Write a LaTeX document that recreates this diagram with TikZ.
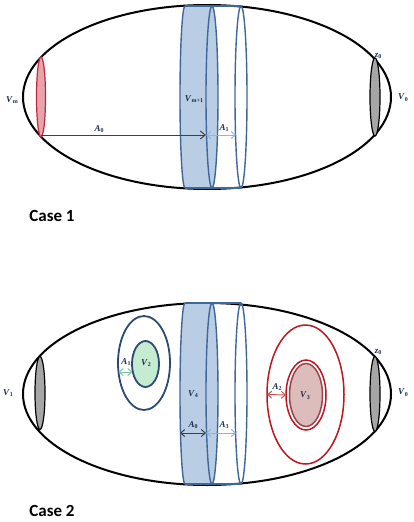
\documentclass[tikz,border=0pt]{standalone}
\usepackage{fontspec}
\setmainfont{Liberation Serif}
\newfontfamily\casefont{Carlito}
\usetikzlibrary{shapes.geometric,arrows.meta}
\definecolor{navy}{HTML}{1F2D50}
\definecolor{slabfill}{HTML}{B9CDE4}
\definecolor{slabline}{HTML}{41679A}
\definecolor{lensred}{HTML}{E9A3AB}
\definecolor{lensredline}{HTML}{C0283C}
\definecolor{lensgray}{HTML}{A6A6A6}
\definecolor{darkblue}{HTML}{2B4A78}
\definecolor{mint}{HTML}{C5EBD1}
\definecolor{ringred}{HTML}{C0141E}
\definecolor{pinkfill}{HTML}{DDBCBC}
\definecolor{pinkline}{HTML}{A0404A}
\definecolor{arrgray}{HTML}{404040}
\definecolor{arrblue}{HTML}{8EB4E3}
\definecolor{arrgreen}{HTML}{7FC79A}
\definecolor{arrred}{HTML}{D05050}
\newcommand\lab[2]{\textbf{\textit{#1}}\raisebox{-0.45ex}{\fontsize{6}{6}\selectfont\textbf{#2}}}
\begin{document}
\begin{tikzpicture}[x=1pt,y=-1pt,
  ell/.style={ellipse, inner sep=0pt, outer sep=0pt},
  big/.style={ell, draw=black, line width=2pt, minimum width=368pt},
  slabell/.style={ell, draw=slabline, line width=1.4pt, minimum width=12pt},
  slabedge/.style={draw=slabline, line width=1.4pt},
  redlens/.style={ell, draw=lensredline, fill=lensred, line width=1.2pt, minimum width=9pt},
  graylens/.style={ell, draw=black, fill=lensgray, line width=1.2pt, minimum width=10pt},
  lbl/.style={text=navy, font=\fontsize{9}{10}\selectfont, inner sep=0pt},
  casetxt/.style={font=\casefont\bfseries\fontsize{17}{18}\selectfont, inner sep=0pt},
  dim/.style={line width=1pt},
  barbs/.style={dim, {Straight Barb[length=4pt,width=7pt]}-{Straight Barb[length=4pt,width=7pt]}},
  barb/.style={dim, -{Straight Barb[length=5pt,width=8pt]}}
]
\useasboundingbox (0,0) rectangle (413,522);

% ================= Case 1 =================
\node[big, minimum height=184pt] (E1) at (207,97) {};
% slab
\fill[slabfill] (185,6) arc[start angle=90,end angle=270,x radius=5pt,y radius=91pt]
  -- (212,188) arc[start angle=-90,end angle=90,x radius=6pt,y radius=91pt] -- cycle;
\node[slabell, minimum height=182pt] (M1) at (212,97) {};
\node[slabell, minimum height=182pt] (R1) at (241,97) {};
\coordinate (S1t) at (185,6);
\coordinate (S1b) at (185,188);
\draw[slabedge] (S1t) arc[start angle=90,end angle=270,x radius=5pt,y radius=91pt];
\draw[slabedge] (S1t) -- (R1.north);
\draw[slabedge] (S1b) -- (R1.south);
% lenses
\node[redlens, minimum height=80pt] (L1) at (41,97) {};
\node[graylens, minimum height=78pt] (G1) at (375,97) {};
% arrows
\coordinate (a0s) at (41,135);
\coordinate (a0e) at (206,135);
\coordinate (a1e) at (236,135);
\draw[barb, arrgray] (a0s) -- (a0e);
\draw[barbs, arrblue] (a0e) -- (a1e);
% labels
\node[lbl] (vm) at (12,100) {\lab{V}{m}};
\node[lbl] (vm1) at (194,99) {\lab{V}{m+1}};
\node[lbl] (A0a) at (99,129) {\lab{A}{0}};
\node[lbl] (A1a) at (224,128) {\lab{A}{1}};
\node[lbl] (z0a) at (378,56) {\lab{z}{0}};
\node[lbl] (v0a) at (403,98) {\lab{V}{0}};
\node[casetxt] (c1) at (52,216) {Case 1};

% ================= Case 2 =================
\node[big, minimum height=182pt] (E2) at (207,394) {};
\fill[slabfill] (185,303) arc[start angle=90,end angle=270,x radius=5pt,y radius=90.5pt]
  -- (212,484) arc[start angle=-90,end angle=90,x radius=6pt,y radius=90.5pt] -- cycle;
\node[slabell, minimum height=181pt] (M2) at (212,393.5) {};
\node[slabell, minimum height=181pt] (R2) at (241,393.5) {};
\coordinate (S2t) at (185,303);
\coordinate (S2b) at (185,484);
\draw[slabedge] (S2t) arc[start angle=90,end angle=270,x radius=5pt,y radius=90.5pt];
\draw[slabedge] (S2t) -- (R2.north);
\draw[slabedge] (S2b) -- (R2.south);
% lenses
\node[graylens, minimum height=73pt] (G2l) at (40,393) {};
\node[graylens, minimum height=75pt] (G2r) at (375,394) {};
% blue nested
\node[ell, draw=darkblue, line width=1.8pt, minimum width=52pt, minimum height=94pt] (B2o) at (144,363) {};
\node[ell, draw=darkblue, fill=mint, line width=1.8pt, minimum width=27pt, minimum height=46pt] (B2i) at (145.5,364) {};
% red nested
\node[ell, draw=ringred, line width=1.5pt, minimum width=77pt, minimum height=139pt] (R2o) at (305.5,394.5) {};
\node[ell, draw=ringred, line width=1.5pt, minimum width=40pt, minimum height=70pt] (R2m) at (306,395) {};
\node[ell, draw=pinkline, fill=pinkfill, line width=1.5pt, minimum width=33pt, minimum height=63pt] (R2i) at (306,395) {};
% arrows
\coordinate (b0s) at (180,433);
\coordinate (b0e) at (206,433);
\coordinate (b3e) at (236,433);
\draw[barbs, arrgray] (b0s) -- (b0e);
\draw[barbs, arrblue] (b0e) -- (b3e);
\coordinate (g1s) at (118.5,372);
\coordinate (g1e) at (132.5,372);
\draw[barbs, arrgreen] (g1s) -- (g1e);
\draw[barbs, arrred] (R2o.west) -- (R2m.west);
% labels
\node[lbl] (v1b) at (8,393) {\lab{V}{1}};
\node[lbl] (v2b) at (146,363) {\lab{V}{2}};
\node[lbl] (A1b) at (126,362) {\lab{A}{1}};
\node[lbl] (v4b) at (193,394) {\lab{V}{4}};
\node[lbl] (A0b) at (193,425) {\lab{A}{0}};
\node[lbl] (A3b) at (224,425) {\lab{A}{3}};
\node[lbl] (A2b) at (277,387) {\lab{A}{2}};
\node[lbl] (v3b) at (305,396) {\lab{V}{3}};
\node[lbl] (z0b) at (378,352) {\lab{z}{0}};
\node[lbl] (v0b) at (403,393) {\lab{V}{0}};
\node[casetxt] (c2) at (52,511) {Case 2};
\end{tikzpicture}
\end{document}
